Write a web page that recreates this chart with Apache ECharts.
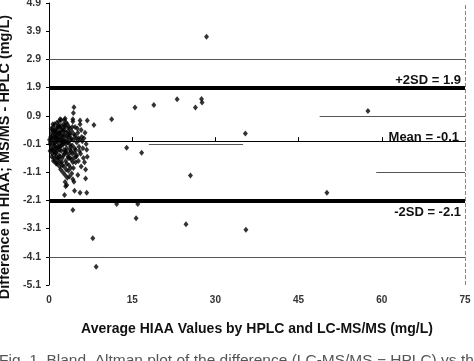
<!DOCTYPE html>
<html><head><meta charset="utf-8">
<script src="https://cdn.jsdelivr.net/npm/echarts@6/dist/echarts.min.js"></script>
<style>html,body{margin:0;padding:0;background:#fff;overflow:hidden}#c{width:474px;height:361px}</style>
</head><body><div id="c"></div>
<script>
var yTicks = [-5.1,-4.1,-3.1,-2.1,-1.1,-0.1,0.9,1.9,2.9,3.9,4.9];
var xTicks = [0,15,30,45,60,75];
var meanDiff = -0.1, upperSD = 1.9, lowerSD = -2.1;
var clusterPoints = [
[0.2,-0.1],[0.3,-0.05],[0.4,0.1],[0.5,-0.2],[0.6,0.2],[0.7,-0.3],[0.8,0.0],[0.9,0.35],[1.0,-0.15],[1.1,0.25],
[1.2,-0.4],[1.3,0.05],[1.4,-0.25],[1.5,0.45],[1.6,-0.05],[1.7,0.15],[1.8,-0.5],[1.9,0.3],[2.0,-0.2],[2.1,0.55],
[2.2,-0.35],[2.3,0.1],[2.4,-0.6],[2.5,0.2],[2.6,-0.1],[2.7,0.4],[2.8,-0.45],[2.9,0.0],[3.0,-0.7],[3.1,0.3],
[3.2,-0.25],[3.3,0.6],[3.4,-0.55],[3.5,0.15],[3.6,-0.85],[3.7,0.45],[3.8,-0.3],[3.9,0.05],[4.0,-0.65],[4.1,0.35],
[4.2,-0.15],[4.3,0.7],[4.4,-0.95],[4.5,0.25],[4.6,-0.4],[4.7,0.5],[4.8,-0.75],[4.9,0.1],[5.0,-0.5],[5.2,0.3],
[5.4,-0.2],[5.6,0.6],[5.8,-0.9],[6.0,0.0],[6.2,-0.6],[6.5,0.3],[6.8,-0.3],
[0.5,0.3],[0.6,-0.45],[0.8,0.5],[0.9,-0.6],[1.0,0.6],[1.1,-0.7],[1.2,0.4],[1.3,-0.55],[1.4,0.65],[1.5,-0.8],
[1.6,0.5],[1.7,-0.65],[1.8,0.7],[1.9,-0.9],[2.0,0.3],[2.1,-1.0],[2.2,0.75],[2.3,-0.75],[2.4,0.45],[2.5,-1.1],
[2.6,0.6],[2.7,-0.9],[2.8,0.75],[2.9,-1.2],[3.0,0.5],[3.1,-1.0],[3.3,-1.3],[3.5,-1.05],[3.7,-1.25],[3.9,-0.95],
[4.1,-1.15],[4.3,-1.35],
[0.3,0.15],[0.4,-0.3],[0.7,0.1],[0.9,-0.1],[1.0,0.15],[1.2,-0.05],[1.4,0.1],[1.5,-0.35],[1.7,0.3],[1.8,0.05],
[2.0,-0.55],[2.1,0.05],[2.3,-0.15],[2.5,0.0],[2.6,-0.5],[2.8,0.2],[3.0,-0.1],[3.2,0.15],[3.4,-0.05],[3.6,0.25],
[3.8,-0.6],[4.0,0.1],[4.2,-0.45],[4.4,0.05],[4.6,-0.25],[5.0,-0.05],[5.3,-0.7],[5.5,0.05],[5.7,-0.45],[6.1,-0.25],
[6.4,-0.75],[6.6,-1.0],[6.9,-0.55],
[0.6,0.4],[0.8,-0.35],[1.1,-0.25],[1.3,0.3],[1.6,-0.2],[1.9,-0.3],[2.2,0.2],[2.4,-0.05],[2.7,0.05],[3.1,-0.4],
[3.4,0.35],[3.6,-0.45],[3.9,-0.2],[4.3,-0.75],[4.8,-0.3],[5.1,0.45],[5.9,0.15],
[0.1,0.05],[0.2,-0.35],[0.4,0.45],[0.5,-0.55],[0.7,0.6],[0.8,-0.7],[1.0,0.35],[1.1,-0.45],[1.2,0.15],[1.3,-0.8],
[1.5,0.2],[1.6,-0.6],[1.7,0.55],[1.8,-0.2],[1.9,0.5],[2.0,-0.75],[2.2,-0.1],[2.3,0.4],[2.4,-0.85],[2.6,0.35],
[2.7,-0.3],[2.8,0.55],[3.0,-0.35],[3.1,0.65],[3.2,-0.8],[3.3,0.0],[3.5,-0.6],[3.6,0.5],[3.7,-0.1],[3.8,0.25],
[4.0,-0.35],[4.2,0.5],[4.5,-0.6],[4.7,0.2],[4.9,-0.55],[5.3,0.1],[5.5,-0.35],[5.8,0.4],[6.3,0.1],[6.7,-0.1],
[2.9,-1.45],[3.0,-1.6],[3.2,-1.55],[4.5,-1.44],[5.2,-1.2],[6.6,-1.32],[4.6,-1.76],[5.6,-1.83],[6.8,-1.83],
[2.0,0.78],[2.9,0.8],[4.3,0.78],[5.6,0.73],[6.9,0.73],[8.1,0.57],[4.5,1.2],[4.4,1.0]
];
var outlierPoints = [
[28.4,3.7],[18.9,1.28],[23.1,1.49],[27.5,1.5],[27.6,1.37],[26.4,1.19],[57.5,1.07],[35.4,0.27],[25.5,-1.22],
[50.1,-1.83],[24.7,-2.95],[35.5,-3.14],[15.5,1.19],[11.3,0.78],[14.0,-0.23],[16.7,-0.41],
[2.8,-1.91],[4.3,-2.44],[12.2,-2.23],[16.0,-2.23],[15.7,-2.73],[7.9,-3.44],[8.5,-4.45]
];
var allPoints = clusterPoints.concat(outlierPoints);

var chart = echarts.init(document.getElementById('c'));
var thin = {color:'#555', width:1, type:'solid'};
var thick = {color:'#000', width:4, type:'solid'};
var lblFont = {fontFamily:'Liberation Sans', fontWeight:'bold', fontSize:13, color:'#111'};
chart.setOption({
  animation:false,
  grid:{left:49, right:9, top:3, bottom:76, outerBoundsMode:'none', containLabel:false},
  xAxis:{type:'value', min:0, max:75, interval:15,
    name:'Average HIAA Values by HPLC and LC-MS/MS (mg/L)', nameLocation:'middle', nameGap:37,
    nameTextStyle:{fontFamily:'Liberation Sans', fontWeight:'bold', fontSize:14, color:'#111'},
    axisLine:{lineStyle:{color:'#000', width:1}},
    axisTick:{inside:true, length:4, lineStyle:{color:'#000'}},
    axisLabel:{fontFamily:'Liberation Sans', fontWeight:'bold', fontSize:10, color:'#333', margin:10},
    splitLine:{show:false}},
  yAxis:{type:'value', min:-5.1, max:4.9,
    name:'Difference in HIAA; MS/MS - HPLC (mg/L)', nameLocation:'middle', nameGap:31, nameRotate:90,
    nameTextStyle:{fontFamily:'Liberation Sans', fontWeight:'bold', fontSize:14.5, color:'#111', padding:[0,26,0,0]},
    axisLine:{show:true, lineStyle:{color:'#000', width:1}},
    axisTick:{show:true, length:3, customValues:yTicks, lineStyle:{color:'#000'}},
    axisLabel:{customValues:yTicks, fontFamily:'Liberation Sans', fontWeight:'bold', fontSize:10.5, color:'#333', margin:8,
      formatter:function(v){return v.toFixed(1);}},
    splitLine:{show:false}},
  series:[{
    type:'scatter', data:allPoints, symbol:'diamond', symbolSize:[5,6],
    itemStyle:{color:'#000'}, silent:true,
    markLine:{silent:true, symbol:'none', animation:false,
      data:[
        {yAxis:2.9, lineStyle:thin, label:{show:false}},
        {yAxis:-4.1, lineStyle:thin, label:{show:false}},
        [{coord:[48.8,0.9]},{coord:[75,0.9], lineStyle:thin, label:{show:false}}],
        [{coord:[59,-1.1]},{coord:[75,-1.1], lineStyle:thin, label:{show:false}}],
        [{coord:[18,meanDiff]},{coord:[35,meanDiff], lineStyle:thin, label:{show:false}}],
        [{coord:[75,-5.1]},{coord:[75,4.9], lineStyle:{color:'#888', width:1}, label:{show:false}}],
        {yAxis:upperSD, lineStyle:thick, label:Object.assign({show:true, position:'insideEndTop', distance:[4,1], formatter:'+2SD = 1.9'}, lblFont)},
        {yAxis:lowerSD, lineStyle:thick, label:Object.assign({show:true, position:'insideEndBottom', distance:[4,6], formatter:'-2SD = -2.1'}, lblFont)},
        {yAxis:meanDiff, lineStyle:{width:0, color:'rgba(0,0,0,0)'}, label:Object.assign({show:true, position:'insideEndTop', distance:[6,0], formatter:'Mean = -0.1'}, lblFont)}
      ]}
  }],
  graphic:[{type:'text', left:-1, top:353, style:{text:'Fig. 1. Bland\u2013Altman plot of the difference (LC-MS/MS \u2212 HPLC) vs the', fontFamily:'Liberation Sans', fontSize:15.5, fill:'#555'}}]
});
</script></body></html>
